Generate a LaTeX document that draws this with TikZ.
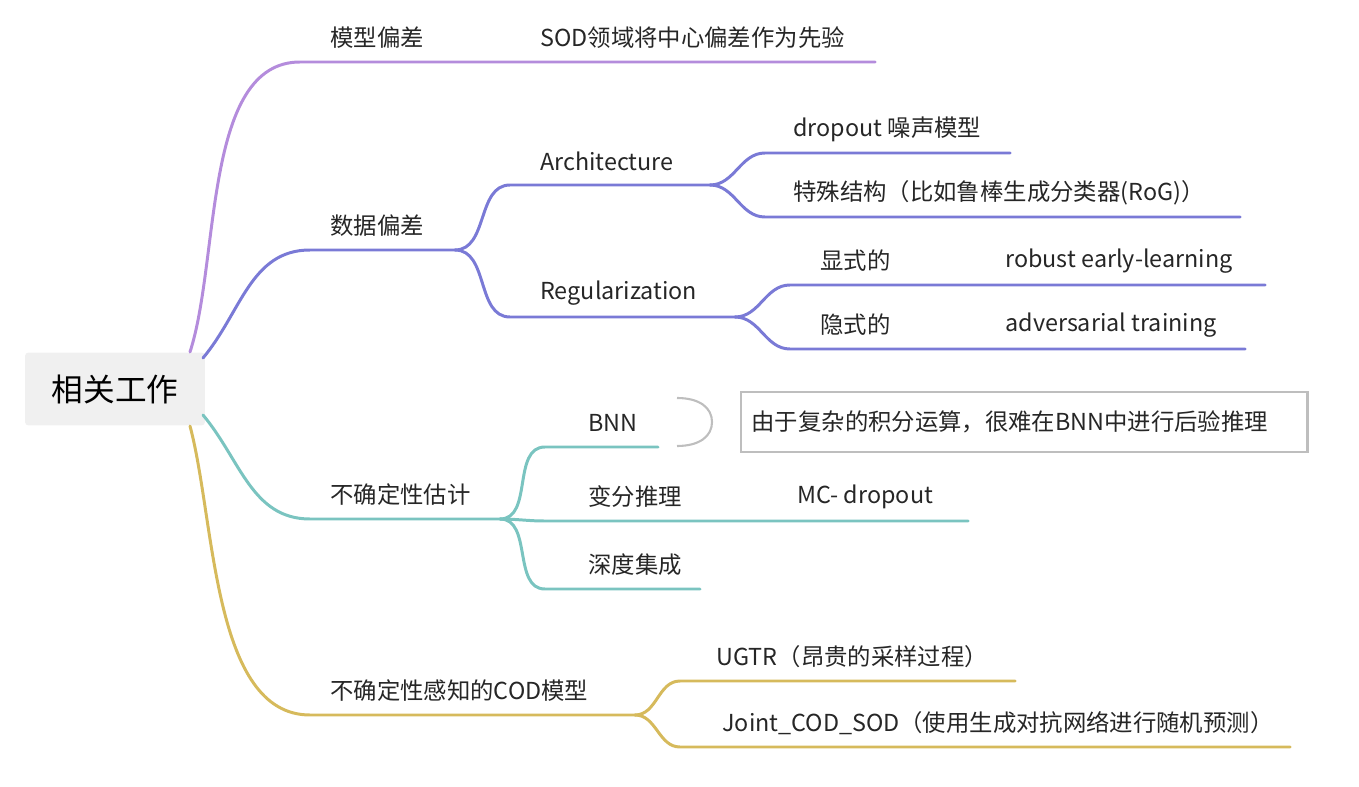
\documentclass[tikz,border=0pt]{standalone}
\usepackage{fontspec}
\setmainfont{Noto Sans CJK SC}
\usetikzlibrary{calc}
\definecolor{cpurple}{RGB}{180,140,220}
\definecolor{cblue}{RGB}{122,122,214}
\definecolor{cteal}{RGB}{122,196,192}
\definecolor{cgold}{RGB}{214,186,92}
\definecolor{cgray}{RGB}{190,190,190}
\tikzset{
  lbl/.style={anchor=west, inner sep=0pt, font=\fontsize{13.3}{16}\selectfont, text=black!85},
  br/.style={line width=1.7pt, line cap=round},
}
\begin{document}
\begin{tikzpicture}[x=0.02cm,y=-0.02cm]
	\useasboundingbox (0,0) rectangle (1359,787);
	% root
	\node[fill=black!6, rounded corners=2pt, minimum width=3.6cm, minimum height=1.46cm, font=\fontsize{18}{20}\selectfont] (root) at (115,389) {相关工作};
	\coordinate (r1) at (190,352);
	\coordinate (r2) at (203,358);
	\coordinate (r3) at (203,415);
	\coordinate (r4) at (190,426);
	
	% 模型偏差
	\coordinate (m0) at (300,62);
	\coordinate (m1) at (875,62);
	\node[lbl] (mx) at (330,38) {模型偏差};
	\node[lbl] (my) at (540,38) {SOD领域将中心偏差作为先验};
	\draw[br, cpurple] (r1) to[out=72, in=180, looseness=0.8] (m0) -- (m1);
	
	% 数据偏差
	\coordinate (d0) at (310,250);
	\coordinate (d1) at (455,250);
	\node[lbl] (dx) at (330,226) {数据偏差};
	\draw[br, cblue] (r2) to[out=50, in=180] (d0) -- (d1);
	\coordinate (a0) at (510,185);
	\coordinate (a1) at (710,185);
	\node[lbl] (ax) at (540,161) {Architecture};
	\coordinate (g0) at (510,317);
	\coordinate (g1) at (735,317);
	\node[lbl] (gx) at (540,293) {Regularization};
	\draw[br, cblue] (d1) to[out=0, in=180] (a0) -- (a1);
	\draw[br, cblue] (d1) to[out=0, in=180] (g0) -- (g1);
	\coordinate (a2) at (765,153);
	\coordinate (a3) at (1010,153);
	\node[lbl] (ay) at (793,129) {dropout 噪声模型};
	\coordinate (a4) at (765,217);
	\coordinate (a5) at (1240,217);
	\node[lbl] (az) at (793,193) {特殊结构（比如鲁棒生成分类器(RoG)）};
	\draw[br, cblue] (a1) to[out=0, in=180] (a2) -- (a3);
	\draw[br, cblue] (a1) to[out=0, in=180] (a4) -- (a5);
	\coordinate (g2) at (790,285);
	\coordinate (g3) at (1265,285);
	\node[lbl] (gy) at (820,261) {显式的};
	\node[lbl] (gy2) at (1005,261) {robust early-learning};
	\coordinate (g4) at (790,349);
	\coordinate (g5) at (1245,349);
	\node[lbl] (gz) at (820,325) {隐式的};
	\node[lbl] (gz2) at (1005,325) {adversarial training};
	\draw[br, cblue] (g1) to[out=0, in=180] (g2) -- (g3);
	\draw[br, cblue] (g1) to[out=0, in=180] (g4) -- (g5);
	
	% 不确定性估计
	\coordinate (u0) at (310,519);
	\coordinate (u1) at (500,519);
	\node[lbl] (ux) at (330,495) {不确定性估计};
	\draw[br, cteal] (r3) to[out=-50, in=180] (u0) -- (u1);
	\coordinate (b0) at (545,447);
	\coordinate (b1) at (658,447);
	\node[lbl] (bx) at (588,423) {BNN};
	\coordinate (v0) at (545,521);
	\coordinate (v1) at (968,521);
	\node[lbl] (vx) at (588,497) {变分推理};
	\node[lbl] (vy) at (797,497) {MC- dropout};
	\coordinate (e0) at (545,589);
	\coordinate (e1) at (700,589);
	\node[lbl] (ex) at (588,565) {深度集成};
	\draw[br, cteal] (u1) to[out=0, in=180] (b0) -- (b1);
	\draw[br, cteal] (u1) to[out=0, in=180] (v0) -- (v1);
	\draw[br, cteal] (u1) to[out=0, in=180] (e0) -- (e1);
	% 概要
	\node[draw=cgray, line width=1.2pt, lbl, anchor=center, align=left, text width=10.9cm, minimum width=11.34cm, minimum height=1.2cm, inner xsep=0.22cm] (note) at (1024,422) {由于复杂的积分运算，很难在BNN中进行后验推理};
	\draw[cgray, line width=1.2pt] (677,398) .. controls (700,398) and (712,408) .. (712,422) .. controls (712,436) and (700,446) .. (677,446);
	
	% 不确定性感知的COD模型
	\coordinate (c0) at (310,715);
	\coordinate (c1) at (635,715);
	\node[lbl] (cx) at (330,691) {不确定性感知的COD模型};
	\draw[br, cgold] (r4) to[out=-75, in=180, looseness=0.8] (c0) -- (c1);
	\coordinate (c2) at (680,681);
	\coordinate (c3) at (1015,681);
	\node[lbl] (cy) at (716,657) {UGTR（昂贵的采样过程）};
	\coordinate (c4) at (680,747);
	\coordinate (c5) at (1290,747);
	\node[lbl] (cz) at (722,723) {Joint\_COD\_SOD（使用生成对抗网络进行随机预测）};
	\draw[br, cgold] (c1) to[out=0, in=180] (c2) -- (c3);
	\draw[br, cgold] (c1) to[out=0, in=180] (c4) -- (c5);
\end{tikzpicture}
\end{document}
